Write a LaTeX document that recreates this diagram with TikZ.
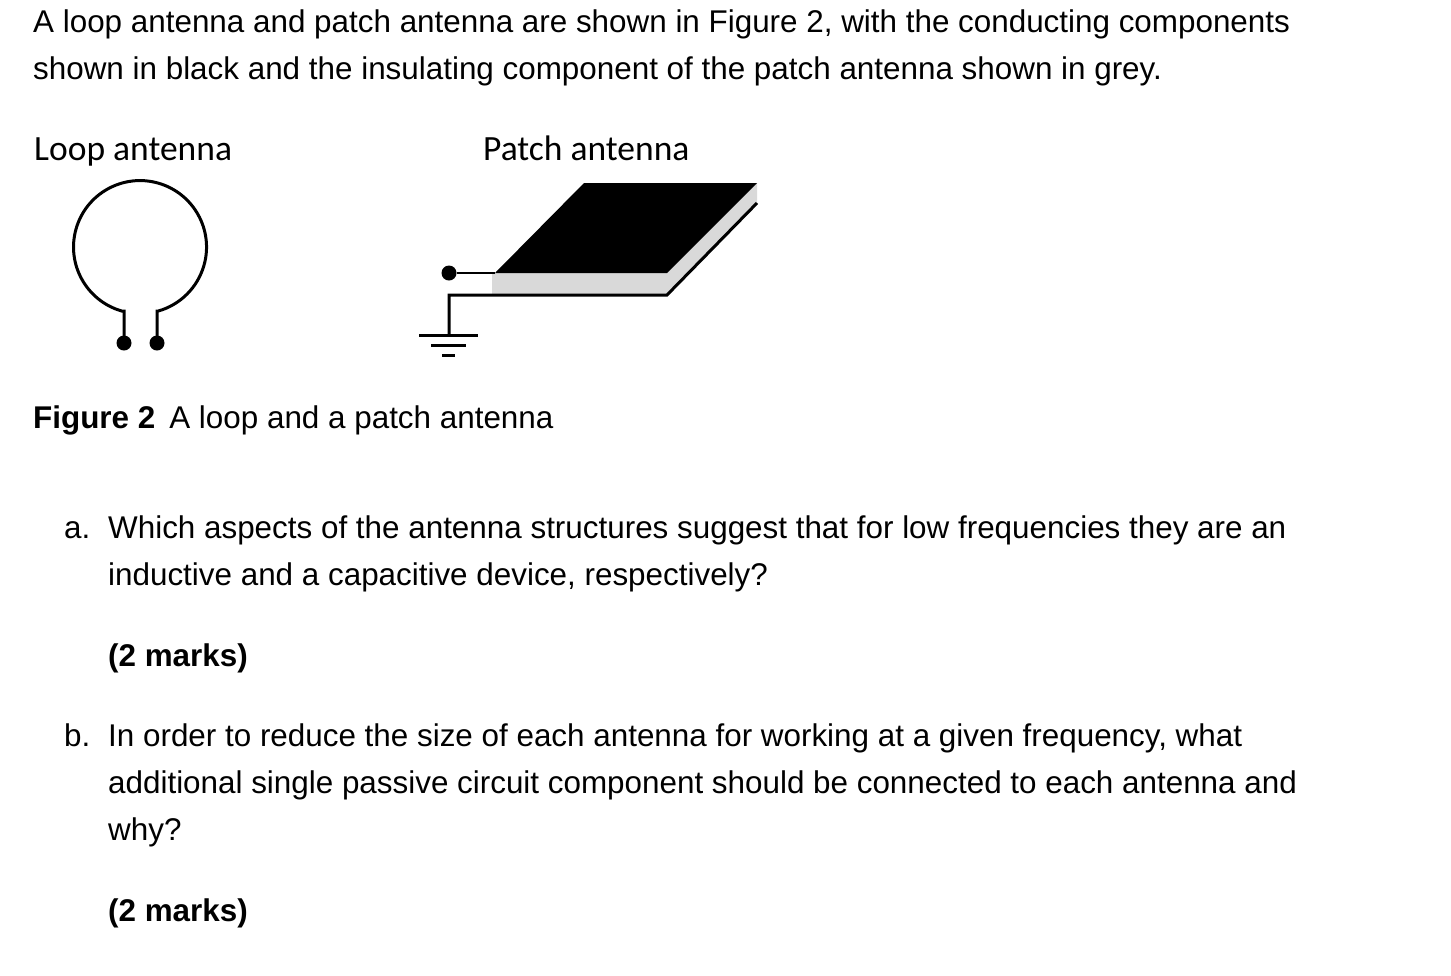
\documentclass[tikz,border=0pt]{standalone}
\usepackage{fontspec}
\setmainfont{Liberation Sans}
\newfontfamily\calfont{Carlito}
\begin{document}
\begin{tikzpicture}[x=1pt,y=-1pt,
  txt/.style={anchor=base west,inner sep=0pt,font=\fontsize{31.4}{36}\selectfont},
  lab/.style={anchor=base west,inner sep=0pt,font=\calfont\fontsize{35.5}{40}\selectfont},
  wire/.style={line width=3pt},
  dotc/.style={circle,fill=black,inner sep=0pt,minimum size=15pt}]
\useasboundingbox (0,0) rectangle (1451,975);
\node[txt] (t1) at (33,32) {A loop antenna and patch antenna are shown in Figure 2, with the conducting components};
\node[txt] (t2) at (33,79) {shown in black and the insulating component of the patch antenna shown in grey.};
\node[lab] (l1) at (34,160) {Loop antenna};
\node[lab] (l2) at (483,160) {Patch antenna};
% loop
\draw[wire] (124,343) -- (124,311) -- (121.7,311) arc[start angle=106,end angle=434,radius=66.5] -- (157,311) -- (157,343);
\node[dotc] (d1) at (124,343) {};
\node[dotc] (d2) at (157,343) {};
% patch
\fill[black!15] (492,273) -- (667,273) -- (757,183) -- (757,203) -- (667,295) -- (492,295) -- cycle;
\fill[black] (495,273) -- (584,183) -- (757,183) -- (667,273) -- cycle;
\draw[wire] (449,335) -- (449,295) -- (667,295) -- (757,203);
\node[dotc] (fd) at (449,273) {};
\draw[line width=2.2pt] (fd) -- (495,273);
\draw[wire] (419,335) -- (478,335);
\draw[wire] (431,345) -- (466,345);
\draw[wire] (442,355) -- (455,355);
\node[txt] (cap) at (33,428) {\textbf{Figure 2}\hspace{14pt}A loop and a patch antenna};
\node[txt] (a) at (64,538) {a.};
\node[txt] (a1) at (108,538) {Which aspects of the antenna structures suggest that for low frequencies they are an};
\node[txt] (a2) at (108,585) {inductive and a capacitive device, respectively?};
\node[txt] (m1) at (108,666) {\textbf{(2 marks)}};
\node[txt] (b) at (64,746) {b.};
\node[txt] (b1) at (108,746) {In order to reduce the size of each antenna for working at a given frequency, what};
\node[txt] (b2) at (108,793) {additional single passive circuit component should be connected to each antenna and};
\node[txt] (b3) at (108,840) {why?};
\node[txt] (m2) at (108,921) {\textbf{(2 marks)}};
\end{tikzpicture}
\end{document}
